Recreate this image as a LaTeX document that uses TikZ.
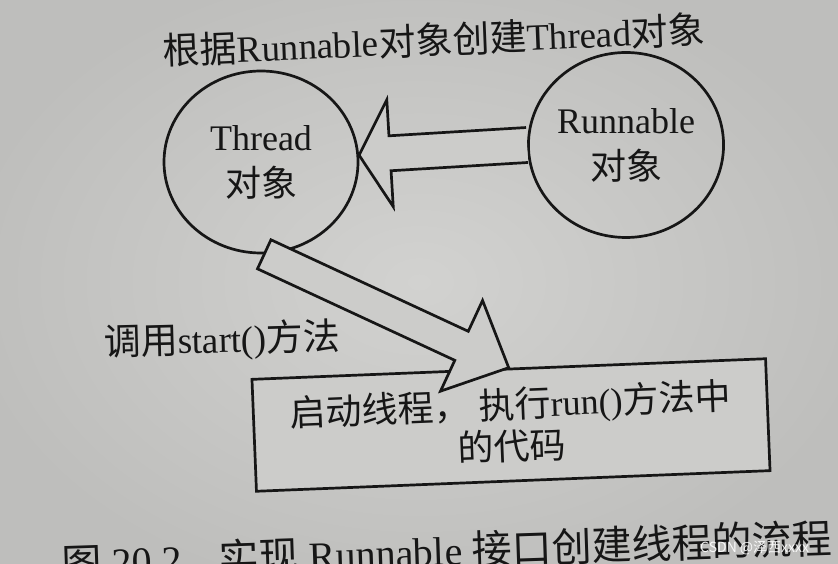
\documentclass[tikz,border=0pt]{standalone}
\usepackage{fontspec}
\setmainfont{Liberation Serif}
\newfontfamily\cjk{Noto Sans CJK SC}
\usetikzlibrary{shapes.geometric,calc}
\definecolor{bgin}{RGB}{210,210,208}
\definecolor{bgout}{RGB}{190,190,188}
\definecolor{bgfill}{RGB}{204,204,202}
\definecolor{ink}{RGB}{22,22,22}
% #1 tail, #2 tip, #3 half shaft width, #4 half head width, #5 head length, #6 closing
\newcommand\blockarr[6]{%
  \path (#2) coordinate (ba-tip) ($(#2)!#5!(#1)$) coordinate (ba-base);
  \filldraw[blk] ($(#1)!#3!90:(#2)$) -- ($(ba-base)!#3!90:(ba-tip)$)
    -- ($(ba-base)!#4!90:(ba-tip)$) -- (ba-tip)
    -- ($(ba-base)!#4!-90:(ba-tip)$) -- ($(ba-base)!#3!-90:(ba-tip)$)
    -- ($(#1)!#3!-90:(#2)$) #6;
}
\begin{document}
\begin{tikzpicture}[x=1pt,y=-1pt,
  blk/.style={draw=ink, fill=bgfill, line width=2.7pt, line join=miter},
  obj/.style={ellipse, draw=ink, line width=2.7pt, inner sep=0pt, align=center,
    text=ink, font=\fontsize{36}{46}\selectfont},
  procbox/.style={rectangle, draw=ink, fill=bgfill, line width=2.7pt, inner sep=0pt,
    align=center, text=ink, font=\fontsize{36}{42}\selectfont},
  lbl/.style={inner sep=0pt, text=ink, font=\fontsize{37}{44}\selectfont},
  capt/.style={inner sep=0pt, text=ink, font=\fontsize{40}{48}\selectfont},
  wm/.style={inner sep=0pt, text=white, opacity=0.9, font=\cjk\fontsize{14}{16}\selectfont}]
\useasboundingbox (0,0) rectangle (838,564);
\shade[inner color=bgin, outer color=bgout] (-40,-40) rectangle (878,604);

\node[lbl, rotate=2.3] (toplbl) at (434,40) {{\cjk 根据}Runnable{\cjk 对象创建}Thread{\cjk 对象}};

\node[obj, minimum width=194pt, minimum height=182pt] (thread) at (261,162) {Thread\\{\cjk 对象}};
\node[obj, minimum width=192pt, minimum height=185pt] (run) at (626,145) {Runnable\\{\cjk 对象}};

\node[procbox, rotate=2.3, minimum width=514pt, minimum height=112pt] (box) at (511,425)
  {{\cjk 启动线程，} {\cjk 执行}run(){\cjk 方法中}\\{\cjk 的代码}};

\node[lbl, rotate=1.5] (startlbl) at (222,341) {{\cjk 调用}start(){\cjk 方法}};

% Runnable -> Thread
\blockarr{run.west}{thread.4}{17.5pt}{53.5pt}{31pt}{}
% Thread -> box
\blockarr{thread.-88}{box.north}{16pt}{50pt}{52pt}{-- cycle}

\node[capt, anchor=west, rotate=1.9] (cap) at (62,563)
  {{\cjk 图} 20.2\hspace{27pt} {\cjk 实现} Runnable {\cjk 接口创建线程的流程}};

\node[wm, anchor=west] (wmark) at (700,548) {CSDN @泽西xxxx};
\end{tikzpicture}
\end{document}
